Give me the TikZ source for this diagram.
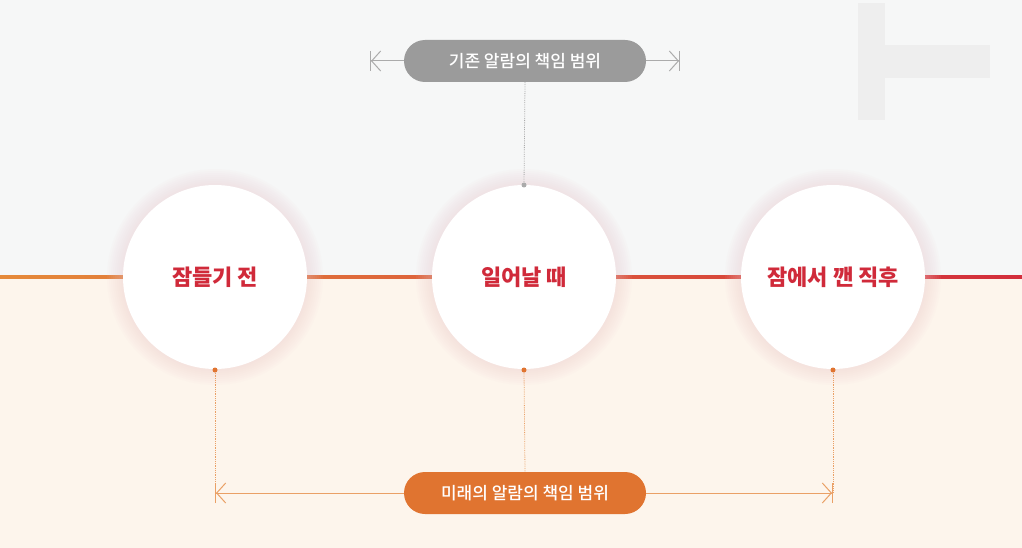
\documentclass[tikz,border=0pt]{standalone}
\usepackage{fontspec}
\newfontfamily\kr{Noto Sans CJK KR}
\newfontfamily\krm{Noto Sans CJK KR Medium}
\usetikzlibrary{arrows.meta}
\definecolor{topbg}{HTML}{F6F7F7}
\definecolor{botbg}{HTML}{FDF5EC}
\definecolor{deco}{HTML}{EEEEEE}
\definecolor{lorange}{HTML}{E58A3A}
\definecolor{lred}{HTML}{D32E3C}
\definecolor{txtred}{HTML}{D02A3A}
\definecolor{gpill}{HTML}{9B9B9B}
\definecolor{gline}{HTML}{ABABAB}
\definecolor{opill}{HTML}{E07430}
\definecolor{oline}{HTML}{EAA066}
\definecolor{glow}{HTML}{F0C8CE}
\tikzset{
  x=1pt,y=-1pt,
  stage/.style={circle,fill=white,minimum size=184pt,inner sep=0pt,text=txtred,font=\kr\bfseries\fontsize{22}{26}\selectfont},
  pill/.style={rounded corners=21pt,minimum width=242pt,minimum height=42pt,inner sep=0pt,text=white,font=\krm\fontsize{17}{20}\selectfont},
  tipend/.style={{Bar[width=20pt,line width=1pt]Straight Barb[length=9pt,width=20pt,line width=1pt]}-{Straight Barb[length=9pt,width=20pt,line width=1pt]Bar[width=20pt,line width=1pt]}},
  dotline/.style={densely dotted,line width=0.8pt},
  smalldot/.style={circle,inner sep=0pt,minimum size=5pt}
}
\begin{document}
\begin{tikzpicture}
\useasboundingbox (0,0) rectangle (1022,548);
\fill[topbg] (0,0) rectangle (1022,277);
\fill[botbg] (0,277) rectangle (1022,548);
\fill[deco] (858,3) rectangle (885,120);
\fill[deco] (885,45) rectangle (990,78);
\shade[left color=lorange,right color=lred] (0,275.5) rectangle (1022,278.5);
\foreach \cx in {215,524,833}{
  \foreach \r in {108,106,...,93}{
    \fill[glow,opacity=0.05] (\cx,277) circle (\r);
  }
}
\node[stage] (c1) at (215,277) {잠들기 전};
\node[stage] (c2) at (524,277) {일어날 때};
\node[stage] (c3) at (833,277) {잠에서 깬 직후};
% top
\coordinate (tl) at (370,61);
\coordinate (tr) at (680,61);
\draw[gline,line width=1pt,tipend] (tl) -- (tr);
\node[pill,fill=gpill] (tp) at (525,61) {기존 알람의 책임 범위};
\node[smalldot,fill=gline] (td) at (524,185) {};
\draw[gline,dotline] (tp.south) -- (td);
% bottom
\node[smalldot,fill=opill] (d1) at (215,370) {};
\node[smalldot,fill=opill] (d2) at (524,370) {};
\node[smalldot,fill=opill] (d3) at (833,370) {};
\coordinate (bl) at (215,493);
\coordinate (br) at (833,493);
\draw[oline,dotline] (d1) -- (bl);
\draw[oline,dotline] (d3) -- (br);
\draw[oline,line width=1pt,tipend] (bl) -- (br);
\node[pill,fill=opill] (bp) at (525,493) {미래의 알람의 책임 범위};
\draw[oline,dotline] (d2) -- (bp.north);
\end{tikzpicture}
\end{document}
